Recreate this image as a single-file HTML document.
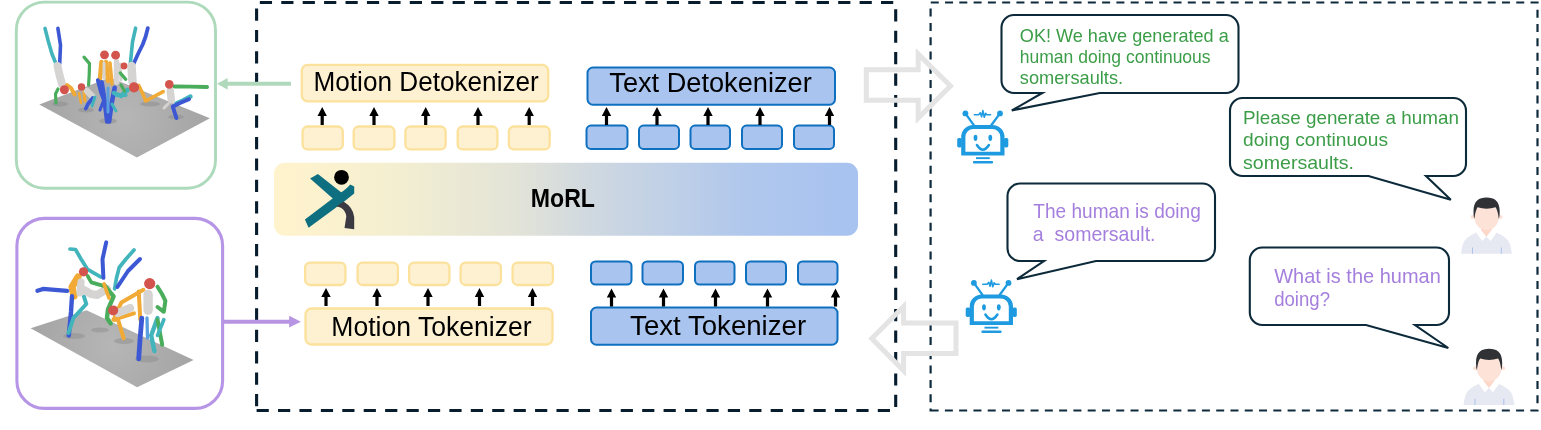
<!DOCTYPE html>
<html><head><meta charset="utf-8">
<style>
html,body{margin:0;padding:0;background:#fff;}
body{width:1541px;height:430px;overflow:hidden;font-family:"Liberation Sans",sans-serif;}
svg{display:block}
text{font-family:"Liberation Sans",sans-serif;}
</style></head><body>
<svg width="1541" height="430" viewBox="0 0 1541 430">
<defs>
<linearGradient id="gm" x1="0" x2="1" y1="0" y2="0"><stop offset="0.02" stop-color="#fff3cd"/><stop offset="0.22" stop-color="#f3eed1"/><stop offset="0.42" stop-color="#e2e3d8"/><stop offset="0.575" stop-color="#cbd6e2"/><stop offset="0.8" stop-color="#b1c8ec"/><stop offset="0.97" stop-color="#a8c3f0"/></linearGradient>
<radialGradient id="fl1" gradientUnits="userSpaceOnUse" cx="125" cy="118" r="75"><stop offset="0" stop-color="#b6b6b6"/><stop offset="1" stop-color="#a6a6a6"/></radialGradient>
<radialGradient id="fl2" gradientUnits="userSpaceOnUse" cx="112" cy="345" r="75"><stop offset="0" stop-color="#b6b6b6"/><stop offset="1" stop-color="#a6a6a6"/></radialGradient>
<filter id="bl" x="-10%" y="-10%" width="120%" height="120%"><feGaussianBlur stdDeviation="0.75"/></filter>
<path id="ua" d="M0 0 L4.7 9 L1.6 9 L1.6 18 L-1.6 18 L-1.6 9 L-4.7 9 Z"/>
</defs>
<rect width="1541" height="430" fill="#fff"/>

<!-- LEFT PANELS -->
<g id="leftpanels">
<rect x="16.300" y="2.1" width="199.2" height="186.2" rx="28" fill="#fff" stroke="#aedabc" stroke-width="2.9"/>
<rect x="16.9" y="218.4" width="205.7" height="190" rx="27.5" fill="#fff" stroke="#b795e6" stroke-width="3.1"/>
</g>

<!-- FIG1 -->
<g id="fig1" filter="url(#bl)">
<polygon points="39.3,104.6 110,77.4 209.9,118.3 136.9,157.5" fill="url(#fl1)"/>
<g fill="#8f8f8f" opacity="0.55"><ellipse cx="108" cy="121" rx="9" ry="3"/><ellipse cx="86" cy="110" rx="8" ry="2.500"/><ellipse cx="176" cy="117" rx="8" ry="2.5"/><ellipse cx="150" cy="104" rx="10" ry="2.500"/><ellipse cx="60" cy="104" rx="8" ry="2.5"/></g>
<g fill="none" stroke-linecap="round" stroke-linejoin="round">
<path d="M45 28.4 L48.500 42 L52 54 L56 63.700" stroke="#43b4bc" stroke-width="3.6"/>
<path d="M57.900 28.4 L60.5 45 L59.700 63.7" stroke="#3d58d4" stroke-width="3.6"/>
<path d="M57.5 66 L59.500 75 L62 84" stroke="#d6d4d2" stroke-width="8"/>
<path d="M67 85 L71 88 L74.600 94.5" stroke="#f0aa35" stroke-width="4"/>
<path d="M58 89 L55.5 94 L56 103" stroke="#4aad5c" stroke-width="3.2"/>
<path d="M84 57.100 L89.5 63.600 L89.2 75 L88.600 85" stroke="#4aad5c" stroke-width="3.2"/>
<path d="M84 91.500 L84.900 100.8" stroke="#f0aa35" stroke-width="3.2"/>
<path d="M79 93 L81 103" stroke="#f0aa35" stroke-width="2.6"/>
<path d="M87 91 L93 97" stroke="#d6d4d2" stroke-width="6.5"/>
<path d="M92.800 98 L88 104 L85.8 108.500" stroke="#3d58d4" stroke-width="3.8"/>
<path d="M95 97 L92 106" stroke="#43b4bc" stroke-width="3"/>
<path d="M101.500 62 L100 79" stroke="#f0aa35" stroke-width="4.5"/>
<path d="M106 62 L108 81" stroke="#f0aa35" stroke-width="4.5"/>
<path d="M110 63 L112 84" stroke="#f0aa35" stroke-width="3.5"/>
<path d="M104 63 L104 78" stroke="#d6d4d2" stroke-width="3"/>
<path d="M116.500 61.7 L116.5 82.200" stroke="#d6d4d2" stroke-width="5.5"/>
<path d="M120 64 L121 80" stroke="#d6d4d2" stroke-width="3"/>
<path d="M97.900 80.3 L101 92 L104 100" stroke="#3d58d4" stroke-width="4"/>
<path d="M101.600 82.2 L104.5 100 L107.200 121.5" stroke="#3d58d4" stroke-width="4.6"/>
<path d="M114.700 87.8 L111.5 104 L109.200 121.5" stroke="#3d58d4" stroke-width="4.6"/>
<path d="M108 88 L108 112" stroke="#5aa0e0" stroke-width="3"/>
<path d="M103 102 L100 110" stroke="#3d58d4" stroke-width="3.2"/>
<path d="M112 104 L116 111" stroke="#43b4bc" stroke-width="3"/>
<path d="M114 93 L121 96 L127.500 90" stroke="#43b4bc" stroke-width="4.5"/>
<path d="M116.500 95.2 L125.800 95.2" stroke="#43b4bc" stroke-width="3.5"/>
<path d="M120.200 72.9 L125.800 79.4" stroke="#4aad5c" stroke-width="3.2"/>
<path d="M121 85 L124.500 91" stroke="#4aad5c" stroke-width="3.2"/>
<path d="M135.600 28.2 L132.5 42 L131.5 52 L130.400 63" stroke="#43b4bc" stroke-width="3.6"/>
<path d="M147.800 28.2 L145.5 37 L142.700 44.5 L138 54 L133.500 64" stroke="#3d58d4" stroke-width="3.8"/>
<path d="M131.500 66 L132 74 L132.500 82" stroke="#d6d4d2" stroke-width="8.5"/>
<path d="M138.600 85.4 L142.5 93 L145.800 101 L154 96.5 L163.200 91.6" stroke="#f0aa35" stroke-width="3.6"/>
<path d="M174.400 86.5 L190 86.600 L207.100 87" stroke="#4aad5c" stroke-width="3.8"/>
<path d="M170.300 91 L171.3 99.800" stroke="#d6d4d2" stroke-width="7.5"/>
<path d="M190.500 96.5 L183 100.500 L176.4 103.500" stroke="#43b4bc" stroke-width="4.4"/>
<path d="M189 99.200 L180 103 L172.800 106.6 L174.5 112 L176.400 118" stroke="#3d58d4" stroke-width="4"/>
<path d="M168 104 L164 108" stroke="#d6d4d2" stroke-width="3"/>
</g>
<g fill="#d3524e">
<circle cx="64.400" cy="89.7" r="4.500"/><circle cx="81.500" cy="86.9" r="3.700"/>
<circle cx="104.500" cy="54.8" r="4.400"/><circle cx="115.600" cy="55.2" r="4.400"/>
<circle cx="124" cy="66" r="3.400"/><circle cx="134" cy="87.400" r="5.100"/>
<circle cx="169.300" cy="84.4" r="4.300"/>
</g>
</g>
<!-- FIG2 -->
<g id="fig2" filter="url(#bl)">
<polygon points="30.6,328.2 86.5,310.3 193.6,359.9 137.1,387.3" fill="url(#fl2)"/>
<g fill="#8f8f8f" opacity="0.5"><ellipse cx="74" cy="336" rx="11" ry="3"/><ellipse cx="124" cy="341" rx="10" ry="3"/><ellipse cx="147" cy="359" rx="12" ry="3.5"/><ellipse cx="100" cy="330" rx="9" ry="2.5"/></g>
<g fill="none" stroke-linecap="round" stroke-linejoin="round">
<path d="M70 249 L75.5 249.5 L81 259 L87.6 269.4 L100.6 276.8" stroke="#43b4bc" stroke-width="3.7"/>
<path d="M106.2 242.4 L102.5 259.2 L103.4 277.8" stroke="#3d58d4" stroke-width="4.0"/>
<path d="M134 250 L126 259 L119.2 267.5 L116.5 278 L114.6 288.9" stroke="#43b4bc" stroke-width="3.7"/>
<path d="M140 259 L128 271 L117.4 287" stroke="#3d58d4" stroke-width="4.0"/>
<path d="M78 277 L72 287 L74 296" stroke="#f0aa35" stroke-width="7.2"/>
<path d="M37.4 290.8 L43 288.9 L55 289.8 L67.2 290.8" stroke="#3d58d4" stroke-width="4.2"/>
<path d="M72 296.3 L71 312 L68.8 335.5" stroke="#3d58d4" stroke-width="4.4"/>
<path d="M83.9 296.3 L86.3 304 L73.4 318 L68.5 333" stroke="#43b4bc" stroke-width="4.0"/>
<path d="M81 282 L80 293" stroke="#d6d4d2" stroke-width="7.2"/>
<path d="M84 290 L91 294 L97 295 L107 289" stroke="#d6d4d2" stroke-width="8.2"/>
<path d="M87.6 275.9 L91.3 282.4 L104.3 286.1" stroke="#4aad5c" stroke-width="3.7"/>
<path d="M104.3 285.2 L113.6 296.3 L108 309.3 L107 318 L110.7 323.5" stroke="#4aad5c" stroke-width="4.4"/>
<path d="M104 284 L109 298" stroke="#f0aa35" stroke-width="3.7"/>
<path d="M143.4 289.8 L121.4 302.4 L113.6 319.7 L118.1 319.8 L123.7 338.4" stroke="#f0aa35" stroke-width="4.0"/>
<path d="M138.7 291.4 L139.5 305 L140.3 319.7" stroke="#f0aa35" stroke-width="4.0"/>
<path d="M113.6 319.7 L134 313.4" stroke="#f0aa35" stroke-width="4.0"/>
<path d="M118 313 L130 308" stroke="#d6d4d2" stroke-width="8.2"/>
<path d="M148.1 294.5 L148.1 310.3" stroke="#d6d4d2" stroke-width="9.4"/>
<path d="M157.5 286.7 L162 294 L165.4 300.8 L163.8 311.8 L157.5 307" stroke="#4aad5c" stroke-width="4.0"/>
<path d="M141.8 318.1 L140 340 L138.7 358.9" stroke="#3d58d4" stroke-width="4.8"/>
<path d="M157.5 318.1 L151.2 335.4 L154.4 351.1" stroke="#43b4bc" stroke-width="4.4"/>
<path d="M157.5 319.7 L162.2 344.8" stroke="#4aad5c" stroke-width="4.0"/>
<path d="M163.8 319.7 L157.5 335.4" stroke="#43b4bc" stroke-width="3.7"/>
<path d="M147 318 L147.5 338" stroke="#5aa0e0" stroke-width="3.3"/>
</g>
<g fill="#d3524e">
<circle cx="83.5" cy="271.8" r="4.6"/><circle cx="113.2" cy="310.4" r="5"/><circle cx="149.7" cy="283.6" r="5.6"/>
</g>
</g>

<!-- dashed boxes -->
<path d="M256.6 410.5 H895.7 V2.5 H256.6 Z" fill="none" stroke="#071d2e" stroke-width="3.1" stroke-dasharray="12.2 9.22"/>
<path d="M930.6 410.5 H1537.5 V2.5 H930.6 Z" fill="none" stroke="#0e2a3c" stroke-width="2.2" stroke-dasharray="8 6.28"/>

<!-- hollow arrows -->
<g id="harrows" fill="none" stroke="#e4e4e4" stroke-width="5" stroke-linejoin="miter">
<path d="M866.3 69.7 H918.2 V53.9 L950.5 86 L918.2 118 V100.3 H866.3 Z"/>
<path d="M956 322.9 H903.6 V306.5 L871.8 338.6 L903.6 370.6 V353.6 H956 Z"/>
</g>

<!-- connector arrows -->
<g id="conn">
<line x1="291" y1="83.8" x2="226" y2="83.8" stroke="#b0d9bb" stroke-width="4"/>
<path d="M217 83.8 L227.7 78 L227.7 89.700 Z" fill="#b0d9bb"/>
<line x1="222.6" y1="321.75" x2="290" y2="321.75" stroke="#b795e2" stroke-width="4.2"/>
<path d="M300.9 321.7 L289.1 315.800 L289.1 327.6 Z" fill="#b795e2"/>
</g>

<!-- MoRL bar -->
<rect x="274" y="162.8" width="584" height="73" rx="11" fill="url(#gm)"/>
<g id="logo">
<circle cx="341.5" cy="177.3" r="7.4" fill="#000"/>
<path d="M310.1 178.6 L317.9 173.9 L343.9 194.4 L336.5 201.8 Z" fill="#0e6f80"/>
<path d="M304.9 219.5 L334.600 197 L343.9 190.500 Q348.5 187 350.2 184.5 L354.200 186.6 L354.2 193.500 L343.9 201.8 L308.600 227.8 Z" fill="#0e6f80"/>
<path d="M336.500 206.2 L343.500 201.600 Q353.200 207.5 354.200 217 L354.2 229.300 L344.5 227.900 L346.300 216.5 Q345.800 210.8 341 207.800 Z" fill="#3b3a42"/>
</g>
<text x="530.8" y="207.4" font-size="26" font-weight="bold" textLength="64.2" lengthAdjust="spacingAndGlyphs" opacity="0.999">MoRL</text>

<!-- yellow group top -->
<g id="ytop" fill="#fef1d2" stroke="#fbe19b" stroke-width="2.3">
<rect x="301.8" y="64.8" width="246.4" height="36.6" rx="6"/>
<rect x="302.6" y="126.5" width="40.2" height="22.9" rx="5"/>
<rect x="353.7" y="126.5" width="40.7" height="22.9" rx="5"/>
<rect x="405.4" y="126.5" width="40.2" height="22.9" rx="5"/>
<rect x="457.7" y="126.5" width="39.7" height="22.9" rx="5"/>
<rect x="508.9" y="126.5" width="40.8" height="22.9" rx="5"/>
</g>
<g id="ybot" fill="#fef1d2" stroke="#fbe19b" stroke-width="2.3">
<rect x="305.5" y="308.5" width="247" height="36" rx="6"/>
<rect x="305.1" y="262.6" width="40.3" height="22.4" rx="5"/>
<rect x="357.6" y="262.6" width="40.3" height="22.4" rx="5"/>
<rect x="409.1" y="262.6" width="40.3" height="22.4" rx="5"/>
<rect x="460.6" y="262.6" width="40.3" height="22.4" rx="5"/>
<rect x="512.6" y="262.6" width="40.3" height="22.4" rx="5"/>
</g>
<g id="btop" fill="#a9c4ef" stroke="#0f70c0" stroke-width="2">
<rect x="587.5" y="67.500" width="247.5" height="37.2" rx="5.5"/>
<rect x="586.5" y="125.6" width="41" height="23.3" rx="4.5"/>
<rect x="639" y="125.6" width="40" height="23.3" rx="4.5"/>
<rect x="690.5" y="125.6" width="39.5" height="23.3" rx="4.5"/>
<rect x="742" y="125.6" width="40" height="23.3" rx="4.5"/>
<rect x="794" y="125.6" width="40" height="23.3" rx="4.5"/>
</g>
<g id="bbot" fill="#a9c4ef" stroke="#0f70c0" stroke-width="2">
<rect x="591" y="307.500" width="246.5" height="37.2" rx="5.5"/>
<rect x="591" y="261.400" width="40.5" height="23.2" rx="4.5"/>
<rect x="642.5" y="261.400" width="40.5" height="23.2" rx="4.5"/>
<rect x="695" y="261.400" width="39.5" height="23.2" rx="4.5"/>
<rect x="746" y="261.400" width="40" height="23.2" rx="4.5"/>
<rect x="798" y="261.400" width="39.5" height="23.2" rx="4.5"/>
</g>

<!-- small black up arrows -->
<g id="uparrows" fill="#000">
<use href="#ua" x="322.2" y="107"/><use href="#ua" x="374" y="107"/><use href="#ua" x="425.7" y="107"/><use href="#ua" x="478" y="107"/><use href="#ua" x="529.2" y="107"/>
<use href="#ua" x="606.5" y="107"/><use href="#ua" x="657" y="107"/><use href="#ua" x="708" y="107"/><use href="#ua" x="760" y="107"/><use href="#ua" x="829.5" y="107"/>
<use href="#ua" x="326" y="287.9"/><use href="#ua" x="377" y="287.9"/><use href="#ua" x="428" y="287.9"/><use href="#ua" x="479.5" y="287.9"/><use href="#ua" x="532.5" y="287.9"/>
<use href="#ua" x="611.5" y="288.600"/><use href="#ua" x="663.5" y="288.600"/><use href="#ua" x="715.5" y="288.600"/><use href="#ua" x="767.5" y="288.600"/><use href="#ua" x="835.5" y="288.600"/>
</g>

<!-- box labels -->
<g id="labels" font-size="27" fill="#000" opacity="0.999">
<text x="313.5" y="91.3" textLength="225.3" lengthAdjust="spacingAndGlyphs">Motion Detokenizer</text>
<text x="609.3" y="91.6" textLength="202.4" lengthAdjust="spacingAndGlyphs">Text Detokenizer</text>
<text x="331.3" y="336.1" textLength="200.3" lengthAdjust="spacingAndGlyphs">Motion Tokenizer</text>
<text x="630.1" y="334.7" textLength="176" lengthAdjust="spacingAndGlyphs">Text Tokenizer</text>
</g>

<!-- bubbles -->
<g id="bubbles" fill="#fff" stroke="#0d2a3a" stroke-width="2.1" stroke-linejoin="miter">
<path d="M1014 15 H1226 A12.5 12.5 0 0 1 1238.5 27.5 V80.5 A12.5 12.5 0 0 1 1226 93 H1099.8 L1011.8 110.5 L1042.3 93 H1014 A12.5 12.5 0 0 1 1001.5 80.5 V27.5 A12.5 12.5 0 0 1 1014 15 Z"/>
<path d="M1242.5 98 H1453.5 A12.5 12.5 0 0 1 1466 110.5 V163.5 A12.5 12.5 0 0 1 1453.5 176 H1426 L1450.8 199.8 L1368.5 176 H1242.500 A12.5 12.5 0 0 1 1230 163.5 V110.5 A12.5 12.5 0 0 1 1242.5 98 Z"/>
<path d="M1020 183.5 H1202.5 A12.5 12.5 0 0 1 1215 196 V248.5 A12.5 12.5 0 0 1 1202.5 261 H1096 L1017 279.2 L1044 261 H1020 A12.5 12.5 0 0 1 1007.500 248.5 V196 A12.5 12.5 0 0 1 1020 183.5 Z"/>
<path d="M1262.3 247.5 H1436.5 A12.5 12.5 0 0 1 1449 260 V312.5 A12.5 12.5 0 0 1 1436.5 325 H1415 L1448.3 348 L1366 325 H1262.3 A12.5 12.5 0 0 1 1249.8 312.5 V260 A12.5 12.5 0 0 1 1262.3 247.5 Z"/>
</g>
<g id="btext" font-size="18" opacity="0.999">
<g fill="#3c9d48" font-size="19">
<text x="1019.8" y="42" textLength="209" lengthAdjust="spacingAndGlyphs">OK! We have generated a</text>
<text x="1019.8" y="63" textLength="190.8" lengthAdjust="spacingAndGlyphs">human doing continuous</text>
<text x="1019.8" y="84" textLength="103.3" lengthAdjust="spacingAndGlyphs">somersaults.</text>
<text x="1243" y="124" textLength="216" lengthAdjust="spacingAndGlyphs">Please generate a human</text>
<text x="1243" y="146" textLength="145" lengthAdjust="spacingAndGlyphs">doing continuous</text>
<text x="1243" y="168.5" textLength="111" lengthAdjust="spacingAndGlyphs">somersaults.</text>
</g>
<g fill="#a57fdd" font-size="19.8">
<text x="1033.3" y="218.3" textLength="167.5" lengthAdjust="spacingAndGlyphs">The human is doing</text>
<text x="1032.8" y="241" textLength="122.7" lengthAdjust="spacingAndGlyphs" xml:space="preserve">a  somersault.</text>
<text x="1274.2" y="283.3" textLength="166.6" lengthAdjust="spacingAndGlyphs">What is the human</text>
<text x="1274.2" y="306" textLength="55.8" lengthAdjust="spacingAndGlyphs">doing?</text>
</g>
</g>

<!-- robots -->
<defs>
<g id="robot" fill="#1e9be0" stroke="none">
<path d="M16.2 27.2 V21 A12 12 0 0 1 28.2 9 H47.5 A12 12 0 0 1 59.5 21 V39.6 H16.2 Z M20.4 35.7 H55.3 V21 A8 8 0 0 0 47.3 13 H28.4 A8 8 0 0 0 20.4 21 Z" fill-rule="evenodd"/>
<rect x="12.2" y="22" width="4.6" height="9.4" rx="1.6"/>
<rect x="58.9" y="22" width="4.4" height="9.4" rx="1.6"/>
<circle cx="20.4" cy="-2.6" r="2.9"/><circle cx="55" cy="-2.6" r="2.9"/>
<path d="M20.4 -2.6 L29.3 9.8 M55 -2.6 L45.9 9.8" stroke="#1e9be0" stroke-width="2.3" fill="none"/>
<path d="M29.3 -1.3 L33.6 -1.3 L35.3 -3.2 L36.6 0.8 L37.9 -5.4 L39.3 1.3 L40.6 -2.8 L41.8 -1.3 L45.6 -1.3" stroke="#1e9be0" stroke-width="1.6" fill="none" stroke-linejoin="round" stroke-linecap="round"/>
<ellipse cx="30.5" cy="21.8" rx="1.9" ry="3.1"/><ellipse cx="45.3" cy="21.8" rx="1.9" ry="3.1"/>
<path d="M31.9 29 Q37.9 38.4 43.9 29" stroke="#1e9be0" stroke-width="2.5" fill="none" stroke-linecap="round"/>
<rect x="31" y="41.2" width="13.8" height="1.9"/>
<rect x="28" y="45" width="20" height="2.5" rx="0.8"/>
</g>
<g id="person">
<path d="M0 57.3 L0.7 53 Q1.5 47.500 3.4 44.5 Q6 40.5 14.9 36.300 L25.400 34 L35.9 36.3 Q44.800 40.5 47.4 44.5 Q49.300 47.5 50.2 53 L51 57.300 Z" fill="#e6e9f1"/>
<path d="M11.5 51 V57.300 M40.3 51 V57.3" stroke="#a6bcec" stroke-width="0.9" fill="none"/>
<path d="M20 30 H30.900 V34 L25.4 40.6 L20 34 Z" fill="#fdd8c8"/>
<path d="M15.300 36.2 L19.6 33 L25.400 40.2 L21.2 44.500 Z" fill="#fff"/>
<path d="M35.5 36.200 L31.2 33 L25.400 40.2 L29.6 44.5 Z" fill="#fff"/>
<ellipse cx="25.6" cy="20.6" rx="12.3" ry="13" fill="#fde2d8"/>
<circle cx="11.600" cy="20.6" r="2" fill="#fde2d8"/><circle cx="39.700" cy="20.6" r="2" fill="#fde2d8"/>
<path d="M13.400 22.5 Q12.4 20 12.500 15 C12.500 4 18 1 25.600 1 C33.2 1 38.700 4 38.700 15 Q38.8 20 37.800 22.5 Q37 14.500 34.6 10.8 Q25.500 13.600 16.600 10.8 Q14.2 14.500 13.4 22.500 Z" fill="#2f3134"/>
</g>
</defs>
<use href="#robot" x="945" y="116"/>
<use href="#robot" x="953.5" y="285.5"/>
<use href="#person" x="1461" y="196.500"/>
<use href="#person" x="1463.5" y="347.7"/>

</svg>
</body></html>
